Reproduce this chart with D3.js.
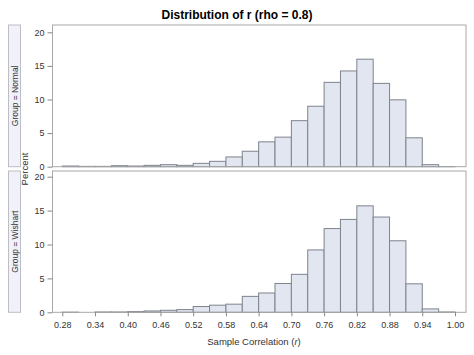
<!DOCTYPE html>
<html><head><meta charset="utf-8">
<script src="https://cdn.jsdelivr.net/npm/d3@7"></script>
<style>body{margin:0;background:#fff}svg{display:block}text{font-family:"Liberation Sans",Arial,sans-serif;fill:#333}</style>
</head><body><svg id="c" width="474" height="355"></svg>
<script>
const binStarts = [0.28,0.31,0.34,0.37,0.40,0.43,0.46,0.49,0.52,0.55,0.58,0.61,0.64,0.67,0.70,0.73,0.76,0.79,0.82,0.85,0.88,0.91,0.94,0.97];
const binWidth = 0.03;
const normalPct = [0.1,0.05,0.05,0.15,0.1,0.2,0.3,0.2,0.5,0.8,1.45,2.3,3.7,4.4,6.85,9.0,12.55,14.25,16.0,12.4,9.95,4.3,0.3,0.02];
const wishartPct = [0.02,0,0.05,0.05,0.1,0.2,0.3,0.4,0.85,1.05,1.2,2.35,2.85,4.25,5.6,9.2,12.35,13.7,15.7,14.05,10.55,4.2,0.5,0.05];
const xTicks = [0.28,0.34,0.40,0.46,0.52,0.58,0.64,0.70,0.76,0.82,0.88,0.94,1.00];
const yTicks = [0,5,10,15,20];
const groups = ["Normal","Wishart"];

const svg = d3.select("#c");
const L = 52.5, R = 466;
const x = d3.scaleLinear().domain([0.28,1.00]).range([62.3,455]);
const panels = [
  {name:groups[0], data:normalPct, top:25, bottom:166.7},
  {name:groups[1], data:wishartPct, top:171, bottom:312.3}
];

svg.append("text").attr("x",237).attr("y",19).attr("text-anchor","middle")
  .style("font-size","12px").style("font-weight","bold").style("fill","#000")
  .text("Distribution of r (rho = 0.8)");

panels.forEach((p,pi)=>{
  const y = d3.scaleLinear().domain([0,20]).range([p.bottom, p.bottom-(p.bottom-(pi===0?32.3:176.7))]);
  // strip
  svg.append("rect").attr("x",8.5).attr("y",p.top).attr("width",12).attr("height",p.bottom-p.top)
    .attr("fill","#F1F1F9").attr("stroke","#BDBDC6").attr("stroke-width",1);
  svg.append("text").attr("transform",`translate(17.5,${(p.top+p.bottom)/2}) rotate(-90)`)
    .attr("text-anchor","middle").style("font-size","8.5px").text("Group = "+p.name);
  // bars
  const g = svg.append("g");
  g.selectAll("rect").data(binStarts).join("rect")
    .attr("x",d=>x(d)).attr("width",d=>x(d+binWidth)-x(d))
    .attr("y",(d,i)=>y(p.data[i])).attr("height",(d,i)=>p.bottom-y(p.data[i]))
    .attr("fill","#E1E6F0").attr("stroke","#7E838C").attr("stroke-width",1);
  // frame
  svg.append("rect").attr("x",L).attr("y",p.top).attr("width",R-L).attr("height",p.bottom-p.top)
    .attr("fill","none").attr("stroke","#A8A8A8").attr("stroke-width",1);
  // y axis
  const ya = svg.append("g").attr("transform",`translate(${L},0)`)
    .call(d3.axisLeft(y).tickValues(yTicks).tickSize(5).tickPadding(3));
  ya.select(".domain").remove();
  ya.selectAll("line").attr("stroke","#888");
  ya.selectAll("text").style("font-size","9px").attr("fill","#333");
  if(pi===1){
    const xa = svg.append("g").attr("transform",`translate(0,${p.bottom})`)
      .call(d3.axisBottom(x).tickValues(xTicks).tickFormat(d3.format(".2f")).tickSize(4).tickPadding(5));
    xa.select(".domain").remove();
    xa.selectAll("line").attr("stroke","#888");
    xa.selectAll("text").style("font-size","9px").attr("fill","#333");
  }
});

svg.append("text").attr("transform","translate(28,169) rotate(-90)").attr("text-anchor","middle")
  .style("font-size","9.5px").text("Percent");
const xl = svg.append("text").attr("x",254).attr("y",345).attr("text-anchor","middle").style("font-size","9.5px");
xl.append("tspan").text("Sample Correlation (");
xl.append("tspan").style("font-style","italic").text("r");
xl.append("tspan").text(")");
</script></body></html>
